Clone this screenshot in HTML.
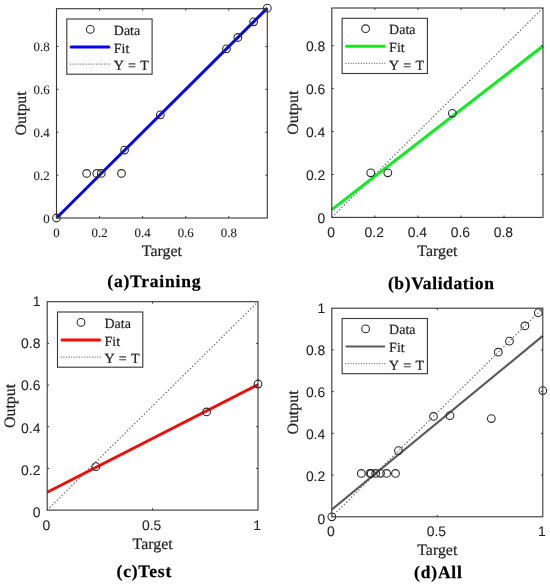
<!DOCTYPE html>
<html lang="en"><head><meta charset="utf-8"><title>Regression plots</title>
<style>
html,body{margin:0;padding:0;background:#fff;}
body{width:550px;height:588px;overflow:hidden;}
svg{display:block;}
.serif{font-family:"Liberation Serif","Times New Roman",serif;}
.sans{font-family:"Liberation Sans",Arial,Helvetica,sans-serif;}
.tk-serif{font-family:"Liberation Serif","Times New Roman",serif;font-size:12.9px;stroke-width:0.08px;}
.tk-sans{font-family:"Liberation Sans",Arial,Helvetica,sans-serif;font-size:13.9px;stroke-width:0.08px;}
.lbl{font-family:"Liberation Serif","Times New Roman",serif;font-size:15.9px;}
.leg{font-family:"Liberation Serif","Times New Roman",serif;font-size:14px;}
.ttl{font-family:"Liberation Serif","Times New Roman",serif;font-size:17.5px;font-weight:bold;letter-spacing:0.8px;fill:#000;stroke:#000;stroke-width:0.25px;}
text{fill:#222222;stroke:#222222;stroke-width:0.2px;text-rendering:geometricPrecision;}
</style></head><body>
<svg width="550" height="588" viewBox="0 0 550 588">
<rect x="0" y="0" width="550" height="588" fill="#ffffff"/>
<g id="panel-a">
<line x1="56.50" y1="218.00" x2="267.30" y2="8.70" stroke="#6a6a6a" stroke-width="1.3" stroke-dasharray="1.3 2.1" />
<line x1="56.50" y1="218.00" x2="267.30" y2="8.17" stroke="#0505f5" stroke-width="3.0" />
<circle cx="56.50" cy="218.00" r="3.85" fill="none" stroke="#2a2a2a" stroke-width="1.1"/>
<circle cx="86.66" cy="173.45" r="3.85" fill="none" stroke="#2a2a2a" stroke-width="1.1"/>
<circle cx="96.78" cy="173.45" r="3.85" fill="none" stroke="#2a2a2a" stroke-width="1.1"/>
<circle cx="101.30" cy="173.45" r="3.85" fill="none" stroke="#2a2a2a" stroke-width="1.1"/>
<circle cx="121.51" cy="173.45" r="3.85" fill="none" stroke="#2a2a2a" stroke-width="1.1"/>
<circle cx="124.57" cy="150.04" r="3.85" fill="none" stroke="#2a2a2a" stroke-width="1.1"/>
<circle cx="160.32" cy="114.87" r="3.85" fill="none" stroke="#2a2a2a" stroke-width="1.1"/>
<circle cx="226.45" cy="48.84" r="3.85" fill="none" stroke="#2a2a2a" stroke-width="1.1"/>
<circle cx="237.87" cy="37.48" r="3.85" fill="none" stroke="#2a2a2a" stroke-width="1.1"/>
<circle cx="253.59" cy="21.82" r="3.85" fill="none" stroke="#2a2a2a" stroke-width="1.1"/>
<circle cx="267.31" cy="8.17" r="3.85" fill="none" stroke="#2a2a2a" stroke-width="1.1"/>
<rect x="56.50" y="8.70" width="210.80" height="209.30" fill="none" stroke="#363636" stroke-width="1.1"/>
<path d="M99.58 218.00v-1.90M99.58 8.70v1.90M142.66 218.00v-1.90M142.66 8.70v1.90M185.74 218.00v-1.90M185.74 8.70v1.90M228.82 218.00v-1.90M228.82 8.70v1.90M56.50 175.12h1.90M267.30 175.12h-1.90M56.50 132.24h1.90M267.30 132.24h-1.90M56.50 89.36h1.90M267.30 89.36h-1.90M56.50 46.48h1.90M267.30 46.48h-1.90" stroke="#363636" stroke-width="1" fill="none"/>
<text class="tk-serif" x="56.50" y="236.70" text-anchor="middle">0</text>
<text class="tk-serif" x="99.58" y="236.70" text-anchor="middle">0.2</text>
<text class="tk-serif" x="142.66" y="236.70" text-anchor="middle">0.4</text>
<text class="tk-serif" x="185.74" y="236.70" text-anchor="middle">0.6</text>
<text class="tk-serif" x="228.82" y="236.70" text-anchor="middle">0.8</text>
<text class="tk-serif" x="49.60" y="223.00" text-anchor="end">0</text>
<text class="tk-serif" x="49.60" y="180.12" text-anchor="end">0.2</text>
<text class="tk-serif" x="49.60" y="137.24" text-anchor="end">0.4</text>
<text class="tk-serif" x="49.60" y="94.36" text-anchor="end">0.6</text>
<text class="tk-serif" x="49.60" y="51.48" text-anchor="end">0.8</text>
<text class="lbl" x="161.90" y="255.70" text-anchor="middle">Target</text>
<text class="lbl" transform="translate(26.40 113.35) rotate(-90)" text-anchor="middle">Output</text>
<text class="ttl" x="154.30" y="286.90" text-anchor="middle">(a)Training</text>
<rect x="66.80" y="19.00" width="85.30" height="55.20" fill="#ffffff" stroke="#363636" stroke-width="1.1"/>
<circle cx="90.30" cy="29.40" r="3.85" fill="none" stroke="#2a2a2a" stroke-width="1.1"/>
<line x1="71.20" y1="47.00" x2="108.90" y2="47.00" stroke="#0505f5" stroke-width="3.0" stroke-linecap="round"/>
<line x1="70.00" y1="64.10" x2="110.10" y2="64.10" stroke="#7a7a7a" stroke-width="1.1" stroke-dasharray="1.1 1.5"/>
<text class="leg" x="113.80" y="34.60">Data</text>
<text class="leg" x="113.80" y="52.70">Fit</text>
<text class="leg" x="113.80" y="70.40" style="word-spacing:1.1px">Y = T</text>
</g>
<g id="panel-b">
<line x1="331.80" y1="217.40" x2="543.00" y2="8.00" stroke="#6a6a6a" stroke-width="1.3" stroke-dasharray="1.3 2.1" />
<line x1="331.80" y1="209.57" x2="543.00" y2="45.99" stroke="#0aee1e" stroke-width="3.0" />
<circle cx="370.77" cy="172.81" r="3.85" fill="none" stroke="#2a2a2a" stroke-width="1.1"/>
<circle cx="387.78" cy="172.81" r="3.85" fill="none" stroke="#2a2a2a" stroke-width="1.1"/>
<circle cx="452.37" cy="113.32" r="3.85" fill="none" stroke="#2a2a2a" stroke-width="1.1"/>
<rect x="331.80" y="8.00" width="211.20" height="209.40" fill="none" stroke="#363636" stroke-width="1.1"/>
<path d="M374.86 217.40v-1.90M374.86 8.00v1.90M417.92 217.40v-1.90M417.92 8.00v1.90M460.98 217.40v-1.90M460.98 8.00v1.90M504.04 217.40v-1.90M504.04 8.00v1.90M331.80 174.48h1.90M543.00 174.48h-1.90M331.80 131.56h1.90M543.00 131.56h-1.90M331.80 88.64h1.90M543.00 88.64h-1.90M331.80 45.72h1.90M543.00 45.72h-1.90" stroke="#363636" stroke-width="1" fill="none"/>
<text class="tk-sans" x="331.20" y="236.50" text-anchor="middle">0</text>
<text class="tk-sans" x="374.26" y="236.50" text-anchor="middle">0.2</text>
<text class="tk-sans" x="417.32" y="236.50" text-anchor="middle">0.4</text>
<text class="tk-sans" x="460.38" y="236.50" text-anchor="middle">0.6</text>
<text class="tk-sans" x="503.44" y="236.50" text-anchor="middle">0.8</text>
<text class="tk-sans" x="325.20" y="223.10" text-anchor="end">0</text>
<text class="tk-sans" x="325.20" y="180.18" text-anchor="end">0.2</text>
<text class="tk-sans" x="325.20" y="137.26" text-anchor="end">0.4</text>
<text class="tk-sans" x="325.20" y="94.34" text-anchor="end">0.6</text>
<text class="tk-sans" x="325.20" y="51.42" text-anchor="end">0.8</text>
<text class="lbl" x="437.40" y="255.70" text-anchor="middle">Target</text>
<text class="lbl" transform="translate(298.40 112.70) rotate(-90)" text-anchor="middle">Output</text>
<text class="ttl" x="441.20" y="288.50" text-anchor="middle" style="letter-spacing:0.62px">(b)Validation</text>
<rect x="342.10" y="18.30" width="85.30" height="55.20" fill="#ffffff" stroke="#363636" stroke-width="1.1"/>
<circle cx="365.60" cy="28.70" r="3.85" fill="none" stroke="#2a2a2a" stroke-width="1.1"/>
<line x1="346.50" y1="46.30" x2="384.20" y2="46.30" stroke="#0aee1e" stroke-width="3.0" stroke-linecap="round"/>
<line x1="345.30" y1="63.40" x2="385.40" y2="63.40" stroke="#7a7a7a" stroke-width="1.1" stroke-dasharray="1.1 1.5"/>
<text class="leg" x="389.10" y="33.90">Data</text>
<text class="leg" x="389.10" y="52.00">Fit</text>
<text class="leg" x="389.10" y="69.70" style="word-spacing:1.1px">Y = T</text>
</g>
<g id="panel-c">
<line x1="47.20" y1="510.10" x2="258.00" y2="301.70" stroke="#6a6a6a" stroke-width="1.3" stroke-dasharray="1.3 2.1" />
<line x1="47.20" y1="492.18" x2="258.00" y2="384.64" stroke="#f50a0a" stroke-width="2.8" />
<circle cx="95.89" cy="466.65" r="3.85" fill="none" stroke="#2a2a2a" stroke-width="1.1"/>
<circle cx="206.56" cy="411.94" r="3.85" fill="none" stroke="#2a2a2a" stroke-width="1.1"/>
<circle cx="258.00" cy="384.02" r="3.85" fill="none" stroke="#2a2a2a" stroke-width="1.1"/>
<rect x="47.20" y="301.70" width="210.80" height="208.40" fill="none" stroke="#363636" stroke-width="1.1"/>
<path d="M152.60 510.10v-1.90M152.60 301.70v1.90M47.20 468.42h1.90M258.00 468.42h-1.90M47.20 426.74h1.90M258.00 426.74h-1.90M47.20 385.06h1.90M258.00 385.06h-1.90M47.20 343.38h1.90M258.00 343.38h-1.90" stroke="#363636" stroke-width="1" fill="none"/>
<text class="tk-sans" x="46.30" y="530.20" text-anchor="middle">0</text>
<text class="tk-sans" x="151.70" y="530.20" text-anchor="middle">0.5</text>
<text class="tk-sans" x="257.10" y="530.20" text-anchor="middle">1</text>
<text class="tk-sans" x="40.40" y="516.90" text-anchor="end">0</text>
<text class="tk-sans" x="40.40" y="474.76" text-anchor="end">0.2</text>
<text class="tk-sans" x="40.40" y="432.62" text-anchor="end">0.4</text>
<text class="tk-sans" x="40.40" y="390.48" text-anchor="end">0.6</text>
<text class="tk-sans" x="40.40" y="348.34" text-anchor="end">0.8</text>
<text class="tk-sans" x="40.40" y="306.20" text-anchor="end">1</text>
<text class="lbl" x="152.60" y="549.20" text-anchor="middle">Target</text>
<text class="lbl" transform="translate(14.60 405.90) rotate(-90)" text-anchor="middle">Output</text>
<text class="ttl" x="144.30" y="577.20" text-anchor="middle">(c)Test</text>
<rect x="57.50" y="312.00" width="85.30" height="55.20" fill="#ffffff" stroke="#363636" stroke-width="1.1"/>
<circle cx="81.00" cy="322.40" r="3.85" fill="none" stroke="#2a2a2a" stroke-width="1.1"/>
<line x1="61.90" y1="340.00" x2="99.60" y2="340.00" stroke="#f50a0a" stroke-width="2.8" stroke-linecap="round"/>
<line x1="60.70" y1="357.10" x2="100.80" y2="357.10" stroke="#7a7a7a" stroke-width="1.1" stroke-dasharray="1.1 1.5"/>
<text class="leg" x="104.50" y="327.60">Data</text>
<text class="leg" x="104.50" y="345.70">Fit</text>
<text class="leg" x="104.50" y="363.40" style="word-spacing:1.1px">Y = T</text>
</g>
<g id="panel-d">
<line x1="331.80" y1="516.80" x2="542.80" y2="308.20" stroke="#6a6a6a" stroke-width="1.3" stroke-dasharray="1.3 2.1" />
<line x1="331.80" y1="509.50" x2="542.80" y2="335.94" stroke="#5a5a5a" stroke-width="2.2" />
<circle cx="331.80" cy="516.80" r="3.85" fill="none" stroke="#2a2a2a" stroke-width="1.1"/>
<circle cx="361.34" cy="473.45" r="3.85" fill="none" stroke="#2a2a2a" stroke-width="1.1"/>
<circle cx="371.26" cy="473.45" r="3.85" fill="none" stroke="#2a2a2a" stroke-width="1.1"/>
<circle cx="375.69" cy="473.45" r="3.85" fill="none" stroke="#2a2a2a" stroke-width="1.1"/>
<circle cx="395.48" cy="473.45" r="3.85" fill="none" stroke="#2a2a2a" stroke-width="1.1"/>
<circle cx="398.48" cy="450.67" r="3.85" fill="none" stroke="#2a2a2a" stroke-width="1.1"/>
<circle cx="433.50" cy="416.46" r="3.85" fill="none" stroke="#2a2a2a" stroke-width="1.1"/>
<circle cx="498.28" cy="352.21" r="3.85" fill="none" stroke="#2a2a2a" stroke-width="1.1"/>
<circle cx="509.46" cy="341.16" r="3.85" fill="none" stroke="#2a2a2a" stroke-width="1.1"/>
<circle cx="524.87" cy="325.93" r="3.85" fill="none" stroke="#2a2a2a" stroke-width="1.1"/>
<circle cx="538.31" cy="312.64" r="3.85" fill="none" stroke="#2a2a2a" stroke-width="1.1"/>
<circle cx="369.99" cy="473.45" r="3.85" fill="none" stroke="#2a2a2a" stroke-width="1.1"/>
<circle cx="386.66" cy="473.45" r="3.85" fill="none" stroke="#2a2a2a" stroke-width="1.1"/>
<circle cx="449.96" cy="415.63" r="3.85" fill="none" stroke="#2a2a2a" stroke-width="1.1"/>
<circle cx="380.54" cy="473.31" r="3.85" fill="none" stroke="#2a2a2a" stroke-width="1.1"/>
<circle cx="491.32" cy="418.55" r="3.85" fill="none" stroke="#2a2a2a" stroke-width="1.1"/>
<circle cx="542.80" cy="390.60" r="3.85" fill="none" stroke="#2a2a2a" stroke-width="1.1"/>
<rect x="331.80" y="308.20" width="211.00" height="208.60" fill="none" stroke="#363636" stroke-width="1.1"/>
<path d="M437.30 516.80v-1.90M437.30 308.20v1.90M331.80 475.08h1.90M542.80 475.08h-1.90M331.80 433.36h1.90M542.80 433.36h-1.90M331.80 391.64h1.90M542.80 391.64h-1.90M331.80 349.92h1.90M542.80 349.92h-1.90" stroke="#363636" stroke-width="1" fill="none"/>
<text class="tk-sans" x="330.90" y="536.20" text-anchor="middle">0</text>
<text class="tk-sans" x="436.40" y="536.20" text-anchor="middle">0.5</text>
<text class="tk-sans" x="541.90" y="536.20" text-anchor="middle">1</text>
<text class="tk-sans" x="325.20" y="523.50" text-anchor="end">0</text>
<text class="tk-sans" x="325.20" y="481.38" text-anchor="end">0.2</text>
<text class="tk-sans" x="325.20" y="439.26" text-anchor="end">0.4</text>
<text class="tk-sans" x="325.20" y="397.14" text-anchor="end">0.6</text>
<text class="tk-sans" x="325.20" y="355.02" text-anchor="end">0.8</text>
<text class="tk-sans" x="325.20" y="312.90" text-anchor="end">1</text>
<text class="lbl" x="437.30" y="555.00" text-anchor="middle">Target</text>
<text class="lbl" transform="translate(298.40 412.50) rotate(-90)" text-anchor="middle">Output</text>
<text class="ttl" x="438.40" y="577.50" text-anchor="middle">(d)All</text>
<rect x="342.10" y="318.50" width="85.30" height="55.20" fill="#ffffff" stroke="#363636" stroke-width="1.1"/>
<circle cx="365.60" cy="328.90" r="3.85" fill="none" stroke="#2a2a2a" stroke-width="1.1"/>
<line x1="346.50" y1="346.50" x2="384.20" y2="346.50" stroke="#5a5a5a" stroke-width="2.2" stroke-linecap="round"/>
<line x1="345.30" y1="363.60" x2="385.40" y2="363.60" stroke="#7a7a7a" stroke-width="1.1" stroke-dasharray="1.1 1.5"/>
<text class="leg" x="389.10" y="334.10">Data</text>
<text class="leg" x="389.10" y="352.20">Fit</text>
<text class="leg" x="389.10" y="369.90" style="word-spacing:1.1px">Y = T</text>
</g>
</svg>
</body></html>
